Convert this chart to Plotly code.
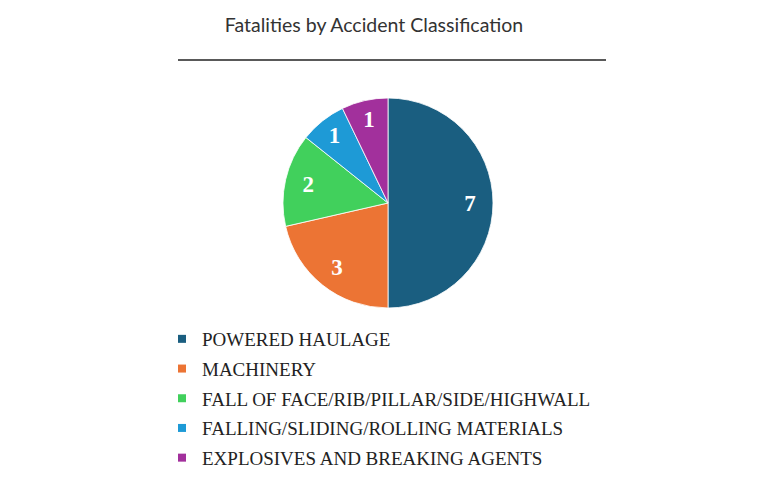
import plotly.graph_objects as go

categories = [
    "POWERED HAULAGE",
    "MACHINERY",
    "FALL OF FACE/RIB/PILLAR/SIDE/HIGHWALL",
    "FALLING/SLIDING/ROLLING MATERIALS",
    "EXPLOSIVES AND BREAKING AGENTS",
]
fatalities = [7, 3, 2, 1, 1]
colors = ["#1a5e80", "#ec7434", "#41d05c", "#1e9ad6", "#a2309c"]

W, H = 768, 492
pie_domain = dict(x=[275 / W, 485 / W], y=[1 - 300 / H, 1 - 90 / H])

fig = go.Figure()
fig.add_trace(go.Pie(
    labels=categories,
    values=fatalities,
    sort=False,
    direction="clockwise",
    rotation=0,
    textinfo="none",
    marker=dict(colors=colors, line=dict(color="white", width=0.8)),
    showlegend=False,
    domain=pie_domain,
    hoverinfo="label+value",
))
# value labels placed in the outer ring of the same pie
fig.add_trace(go.Pie(
    labels=categories,
    values=fatalities,
    sort=False,
    direction="clockwise",
    rotation=0,
    hole=0.56,
    textinfo="value",
    textposition="inside",
    insidetextorientation="horizontal",
    textfont=dict(family="Liberation Serif", size=23, color="white", weight="bold"),
    marker=dict(colors=["rgba(0,0,0,0)"] * len(categories), line=dict(width=0)),
    showlegend=False,
    domain=pie_domain,
    hoverinfo="skip",
))

# legend entries (one per category)
for name, col in zip(categories, colors):
    fig.add_trace(go.Scatter(
        x=[None], y=[None], mode="markers", name=name, legendgroup=name,
        marker=dict(symbol="square", size=8, color=col),
    ))

fig.add_shape(type="line", xref="paper", yref="paper",
              x0=170 / W, x1=598 / W, y0=1 - 52 / H, y1=1 - 52 / H,
              line=dict(color="#222222", width=1.5))

fig.update_layout(
    width=W, height=H,
    margin=dict(l=0, r=0, t=0, b=0),
    paper_bgcolor="white", plot_bgcolor="white",
    title=dict(text="Fatalities by Accident Classification",
               x=366 / W, xanchor="center", y=1 - 17 / H, yanchor="middle",
               font=dict(family="Lato", size=19.5, color="#333333")),
    xaxis=dict(visible=False), yaxis=dict(visible=False),
    legend=dict(x=154 / W, xanchor="left", y=1 - 312 / H, yanchor="top",
                font=dict(family="Liberation Serif", size=19, color="#222222"),
                tracegroupgap=2, bgcolor="rgba(0,0,0,0)"),
)

fig.write_html("out.html")
